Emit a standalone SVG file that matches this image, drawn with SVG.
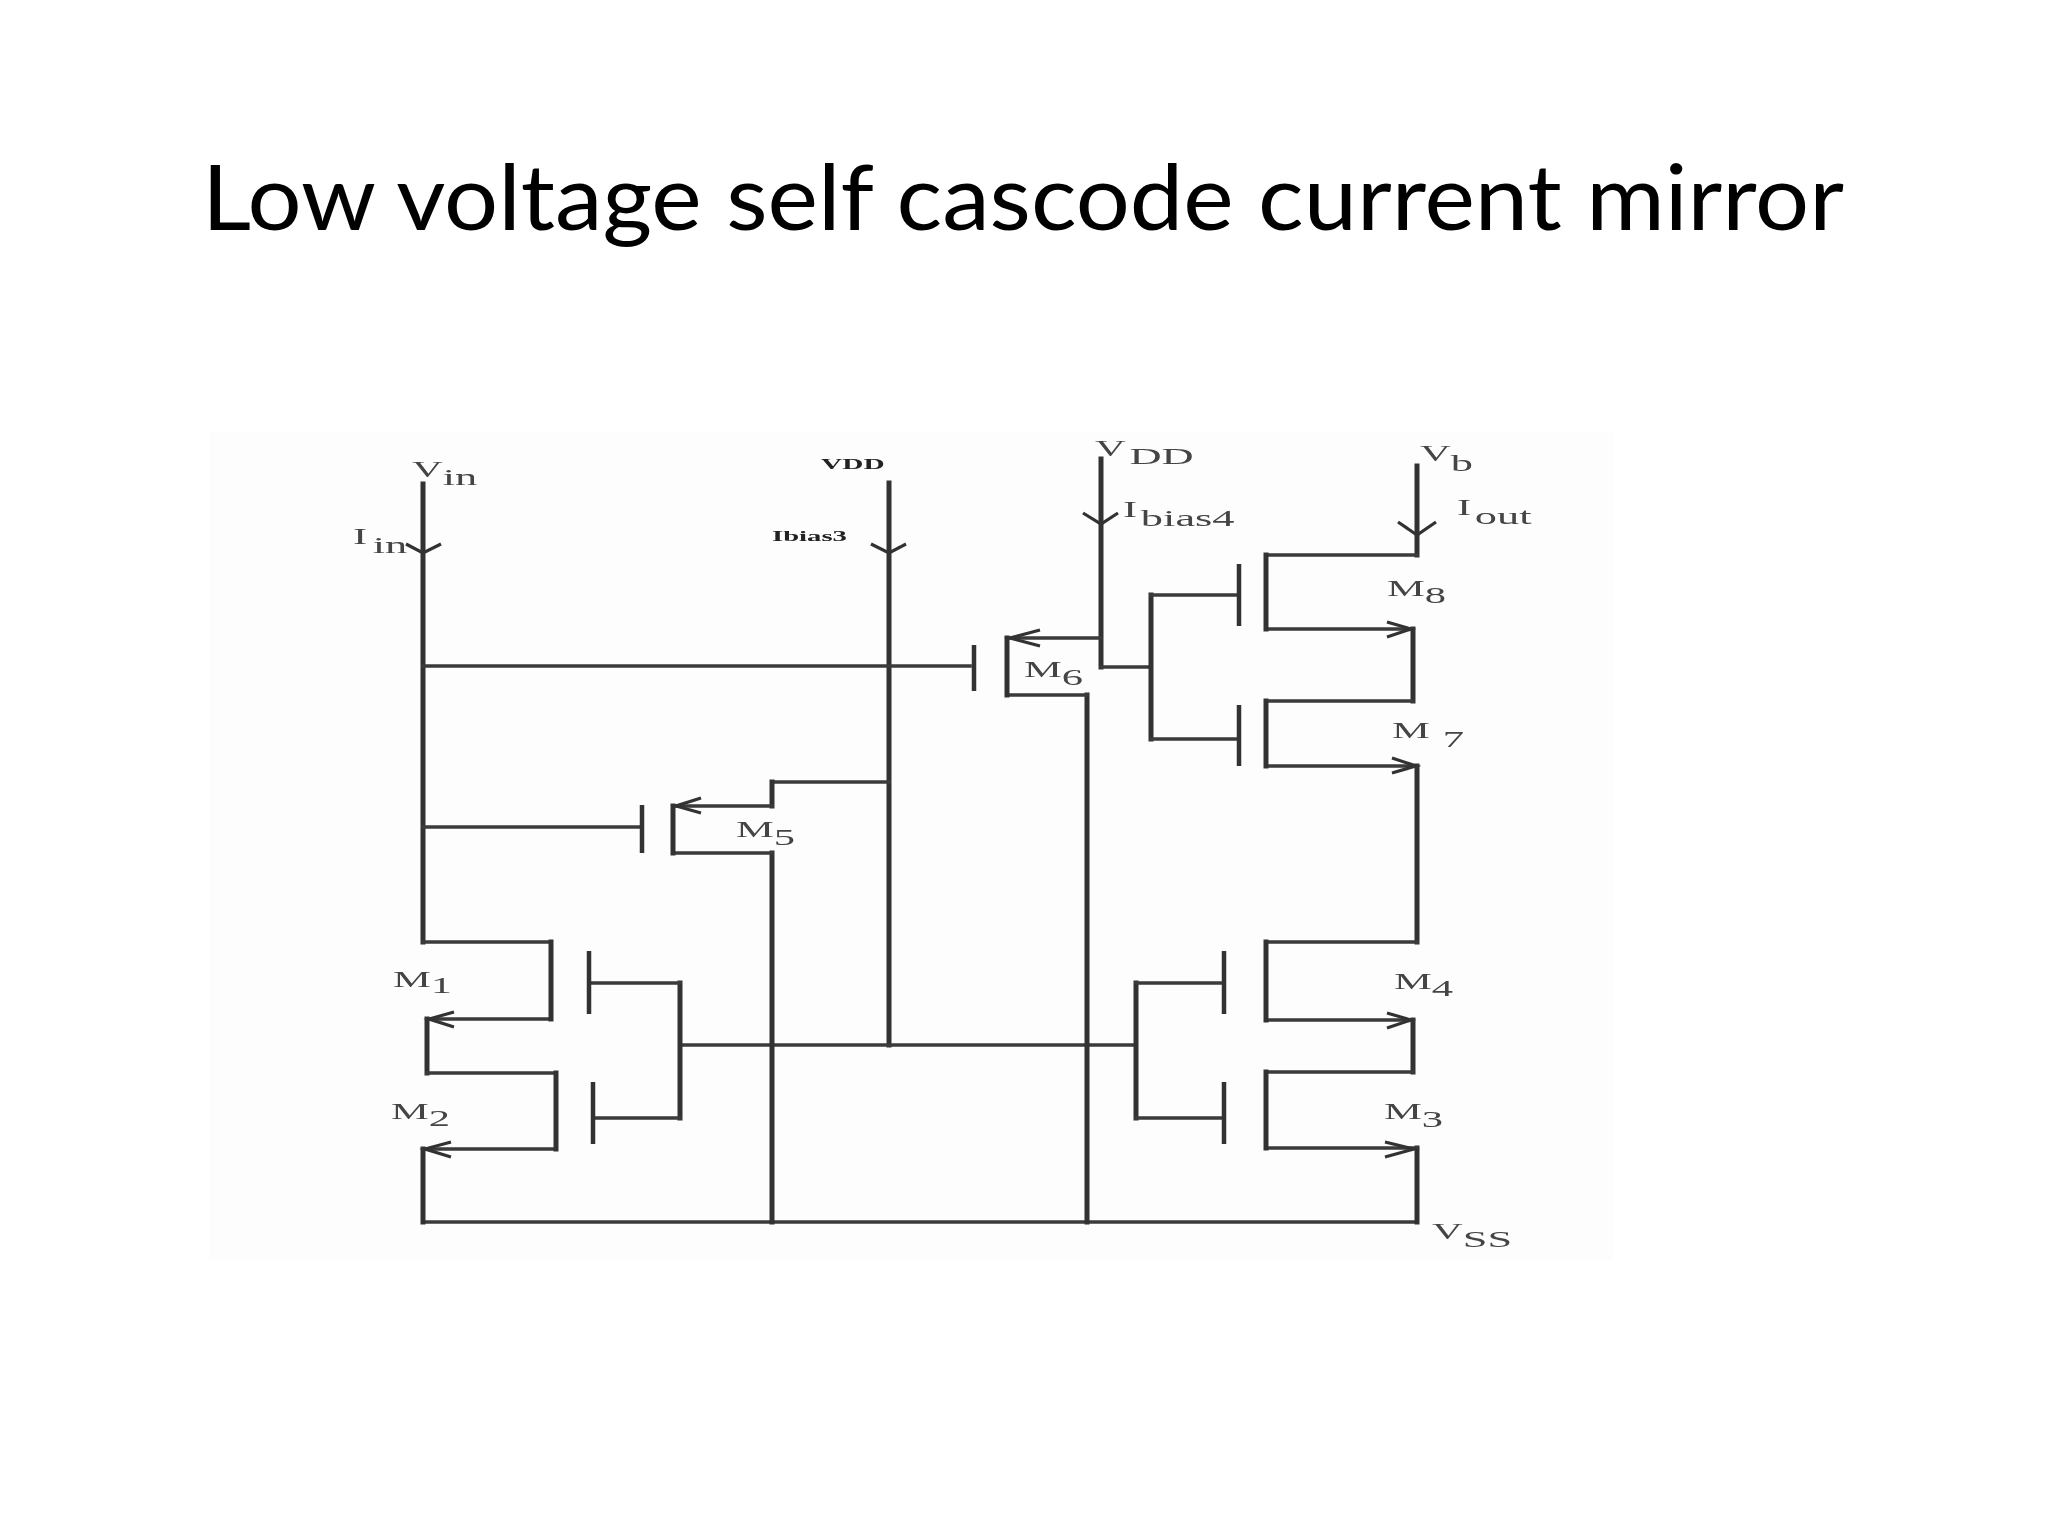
<svg xmlns="http://www.w3.org/2000/svg" width="2048" height="1536" viewBox="0 0 2048 1536">
<defs>
<filter id="soft" x="0" y="0" width="1" height="1"><feGaussianBlur stdDeviation="0.7"/></filter>
</defs>
<style>
.v{stroke:#333;stroke-width:5;fill:none;stroke-linecap:square}
.h{stroke:#3a3a3a;stroke-width:3.6;fill:none;stroke-linecap:square}
.g{stroke:#333;stroke-width:4.5;fill:none}
.a{stroke:#333;stroke-width:3.2;fill:none}
.t{font-family:"Liberation Serif",serif;font-size:23px;fill:#444}
.t .s{font-size:24px}
.t .d{font-size:23px}
.b{font-family:"Liberation Serif",serif;font-weight:bold;fill:#222}
.title{font-family:"Lato","Open Sans",sans-serif;font-size:92px;fill:#000}
</style>
<rect width="2048" height="1536" fill="#fff"/>
<rect x="209" y="431" width="1404" height="829" fill="#fdfdfd"/>
<text id="title" class="title" x="202" y="230" textLength="1642" lengthAdjust="spacingAndGlyphs">Low voltage self cascode current mirror</text>
<g filter="url(#soft)">
<g id="connectors">
<path class="v" d="M423 484V942"/>
<path class="a" d="M406 544L423 553L441 544"/>
<path class="v" d="M889 483V1045"/>
<path class="a" d="M871 544L889 553L906 544"/>
<path class="v" d="M1101 459V667"/>
<path class="a" d="M1083 513L1101 524L1118 513"/>
<path class="v" d="M1417 466V555"/>
<path class="a" d="M1398 522L1417 535L1436 522"/>
<path class="h" d="M423 666H970"/>
<path class="h" d="M423 827H640"/>
<path class="h" d="M772 782H889"/>
<path class="h" d="M1101 667H1151"/>
<path class="h" d="M680 1045H1136"/>
<path class="h" d="M423 1222H1417"/>
<path class="v" d="M772 853V1222"/>
<path class="v" d="M772 782V806"/>
<path class="v" d="M1087 695V1222"/>
<path class="v" d="M1151 595V739"/>
<path class="v" d="M680 983V1118"/>
<path class="v" d="M1136 983V1118"/>
<path class="v" d="M1417 766V942"/>
<path class="v" d="M1413 629V701"/>
<path class="v" d="M1413 1020V1072"/>
<path class="v" d="M427 1019V1073"/>
<path class="v" d="M423 1149V1222"/>
<path class="v" d="M1417 1148V1222"/>
</g>
<g id="M1">
<path class="h" d="M423 942H551M551 1019H427M589 983H680"/>
<path class="v" d="M551 942V1019"/>
<path class="g" d="M589 951V1014"/>
<path class="a" d="M454 1012L429 1019L454 1027"/>
<text class="t" transform="translate(393 987) scale(1.85 1)">M<tspan class="d" dy="6">1</tspan></text>
</g>
<g id="M2">
<path class="h" d="M427 1073H556M556 1149H423M593 1118H680"/>
<path class="v" d="M556 1073V1149"/>
<path class="g" d="M593 1082V1144"/>
<path class="a" d="M451 1142L425 1149L451 1157"/>
<text class="t" transform="translate(391 1119) scale(1.85 1)">M<tspan class="d" dy="7">2</tspan></text>
</g>
<g id="M3">
<path class="h" d="M1266 1072H1413M1266 1148H1417M1136 1118H1224"/>
<path class="v" d="M1266 1072V1148"/>
<path class="g" d="M1224 1082V1144"/>
<path class="a" d="M1385 1142L1414 1149L1385 1157"/>
<text class="t" transform="translate(1384 1119) scale(1.85 1)">M<tspan class="d" dy="8">3</tspan></text>
</g>
<g id="M4">
<path class="h" d="M1266 942H1417M1266 1020H1413M1136 983H1224"/>
<path class="v" d="M1266 942V1020"/>
<path class="g" d="M1224 951V1014"/>
<path class="a" d="M1387 1013L1411 1020L1387 1028"/>
<text class="t" transform="translate(1394 989) scale(1.85 1)">M<tspan class="d" dy="7">4</tspan></text>
</g>
<g id="M5">
<path class="h" d="M673 806H772M673 853H772"/>
<path class="v" d="M673 806V853"/>
<path class="g" d="M642 805V853"/>
<path class="a" d="M701 798L676 806L701 813"/>
<text class="t" transform="translate(736 837) scale(1.85 1)">M<tspan class="d" dy="8">5</tspan></text>
</g>
<g id="M6">
<path class="h" d="M1007 638H1101M1007 695H1087"/>
<path class="v" d="M1007 638V695"/>
<path class="g" d="M974 645V691"/>
<path class="a" d="M1040 630L1010 638L1040 646"/>
<text class="t" transform="translate(1024 677) scale(1.85 1)">M<tspan class="d" dy="8">6</tspan></text>
</g>
<g id="M7">
<path class="h" d="M1266 701H1413M1266 766H1417M1151 739H1239"/>
<path class="v" d="M1266 701V766"/>
<path class="g" d="M1239 705V766"/>
<path class="a" d="M1392 758L1416 766L1392 773"/>
<text class="t" transform="translate(1392 738) scale(1.85 1)">M<tspan class="d" dx="7" dy="9">7</tspan></text>
</g>
<g id="M8">
<path class="h" d="M1266 555H1417M1266 629H1413M1151 595H1239"/>
<path class="v" d="M1266 555V629"/>
<path class="g" d="M1239 564V626"/>
<path class="a" d="M1387 622L1411 629L1387 637"/>
<text class="t" transform="translate(1387 596) scale(1.85 1)">M<tspan class="d" dy="7">8</tspan></text>
</g>
<g id="pins">
<text class="t" transform="translate(412 477) scale(1.85 1)">V<tspan class="s" dy="8">in</tspan></text>
<text class="t" transform="translate(353 544) scale(1.85 1)">I<tspan class="s" dx="3" dy="9">in</tspan></text>
<text class="b" font-size="14" transform="translate(821 469) scale(2.1 1)">VDD</text>
<text class="b" font-size="14" transform="translate(772 541) scale(2.05 1)">Ibias3</text>
<text class="t" transform="translate(1095 456) scale(1.85 1)">V<tspan class="s" dx="2" dy="8">DD</tspan></text>
<text class="t" transform="translate(1123 517) scale(1.85 1)">I<tspan class="s" dx="2" dy="9">bias4</tspan></text>
<text class="t" transform="translate(1420 461) scale(1.85 1)">V<tspan class="s" dy="10">b</tspan></text>
<text class="t" transform="translate(1457 515) scale(1.85 1)">I<tspan class="s" dx="2" dy="9">out</tspan></text>
<text class="t" transform="translate(1432 1239) scale(1.85 1)">V<tspan class="s" dy="8">SS</tspan></text>
</g>
</g>
</svg>
